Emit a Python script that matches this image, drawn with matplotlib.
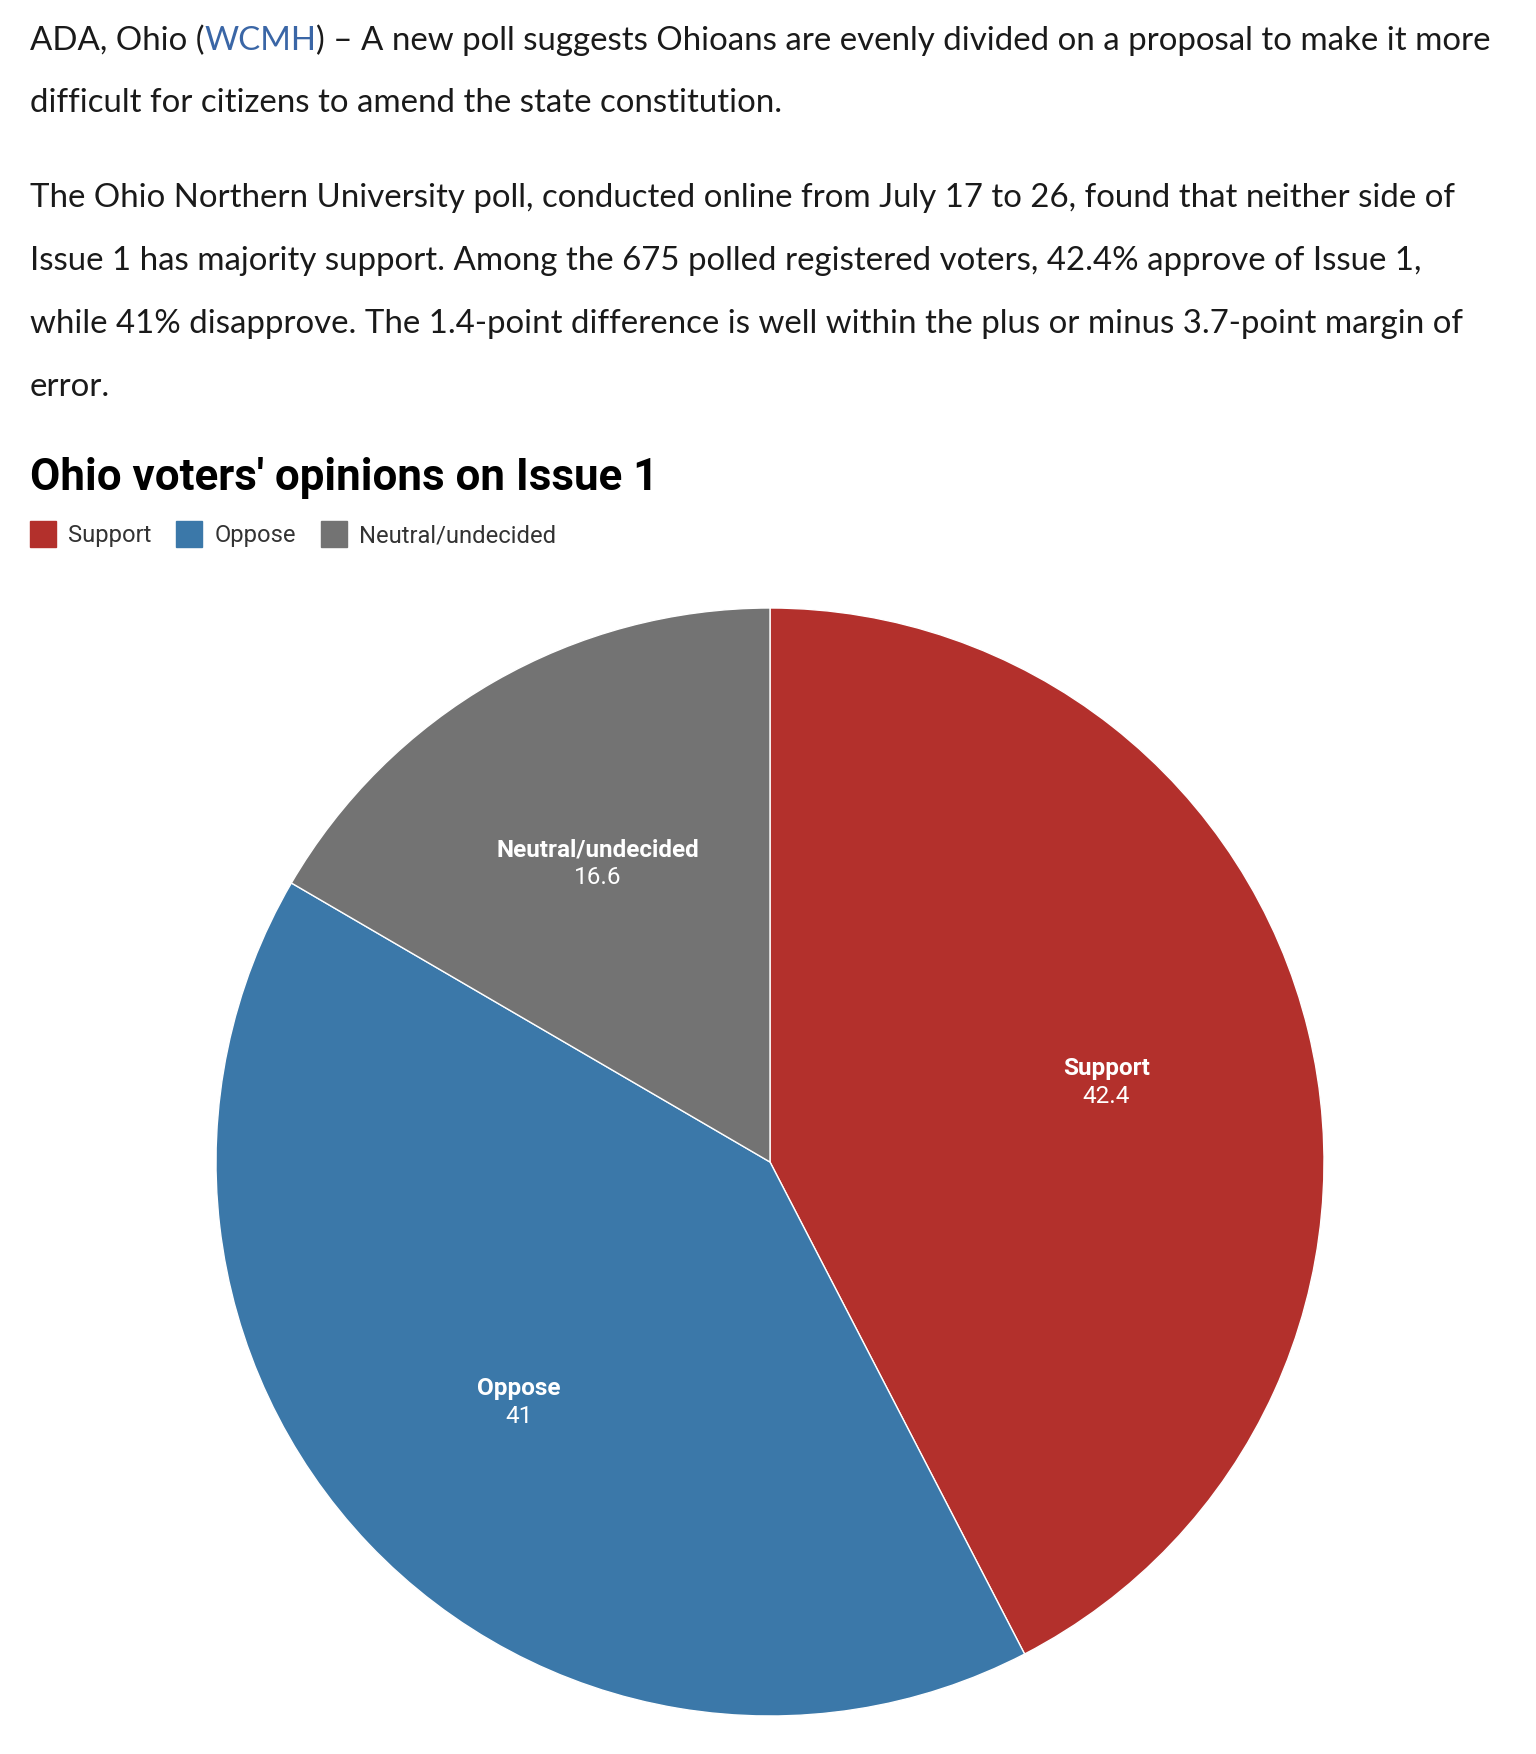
import matplotlib
matplotlib.use("Agg")
import matplotlib.pyplot as plt
from matplotlib.patches import Rectangle
import numpy as np

W, H = 1536, 1754

categories = ["Support", "Oppose", "Neutral/undecided"]
values = [42.4, 41, 16.6]
colors = ["#b3302c", "#3b78a9", "#737373"]

title = "Ohio voters' opinions on Issue 1"
para1 = [
    [("ADA, Ohio (", "#1a1a1a"), ("WCMH", "#3a66a6"),
     (") \u2013 A new poll suggests Ohioans are evenly divided on a proposal to make it more", "#1a1a1a")],
    [("difficult for citizens to amend the state constitution.", "#1a1a1a")],
]
para2 = [
    "The Ohio Northern University poll, conducted online from July 17 to 26, found that neither side of",
    "Issue 1 has majority support. Among the 675 polled registered voters, 42.4% approve of Issue 1,",
    "while 41% disapprove. The 1.4-point difference is well within the plus or minus 3.7-point margin of",
    "error.",
]

def fx(x):
    return x / W

def fy(y):
    return 1 - y / H

fig = plt.figure(figsize=(W / 100, H / 100), dpi=100)
fig.patch.set_facecolor("white")
r = fig.canvas.get_renderer()

body = dict(family=["Lato", "DejaVu Sans"], fontsize=23.8)

# article text
lines = para1 + [[(s, "#1a1a1a")] for s in para2]
baselines = [50, 112, 207, 270, 333, 396]
for segs, yb in zip(lines, baselines):
    x = 30
    for s, c in segs:
        t = fig.text(fx(x), fy(yb), s, color=c, va="baseline", ha="left", **body)
        x += t.get_window_extent(r).width

# title
fig.text(fx(30), fy(490), title, family="Roboto", weight="bold", fontsize=31.6,
         color="black", va="baseline")

# legend
x = 30
for name, c in zip(categories, colors):
    fig.patches.append(Rectangle((fx(x), fy(547)), fx(26), 26 / H, color=c,
                                 transform=fig.transFigure, figure=fig))
    t = fig.text(fx(x + 38), fy(542), name, family="Roboto", fontsize=17.1,
                 color="#333333", va="baseline")
    x += 38 + t.get_window_extent(r).width + 25

# pie
cx, cy, rad = 770, 1162, 554
ax = fig.add_axes([fx(cx - rad), fy(cy + rad), 2 * rad / W, 2 * rad / H])
wedges, _ = ax.pie(values, colors=colors, startangle=90, counterclock=False,
                   wedgeprops=dict(edgecolor="white", linewidth=1))
for w, name, v in zip(wedges, categories, values):
    a = np.deg2rad((w.theta1 + w.theta2) / 2)
    px, py = 0.625 * np.cos(a), 0.625 * np.sin(a) - 0.004
    ax.text(px, py + 0.025, name, ha="center", va="center", color="white",
            family="Roboto", weight="bold", fontsize=17.5)
    ax.text(px, py - 0.025, f"{v:g}", ha="center", va="center", color="white",
            family="Roboto", fontsize=17.5)
ax.set_xlim(-1, 1)
ax.set_ylim(-1, 1)

fig.savefig("out.png", dpi=100, facecolor="white")
